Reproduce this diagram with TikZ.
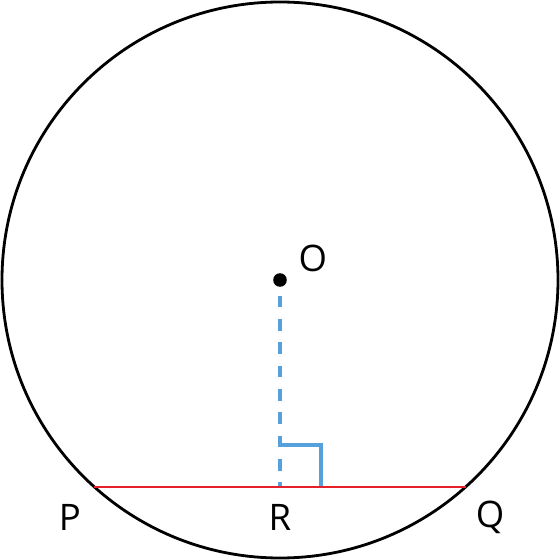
\documentclass[tikz,border=0pt]{standalone}
\usepackage{fontspec}
\setmainfont{Open Sans}
\usetikzlibrary{calc}
\definecolor{chordred}{RGB}{230,32,40}
\definecolor{perpblue}{RGB}{86,160,220}

\begin{document}
\begin{tikzpicture}[
    rim/.style={draw=black, line width=2pt},
    chord/.style={draw=chordred, line width=2.1pt},
    perp/.style={draw=perpblue, line width=2.5pt},
    lbl/.style={font=\fontsize{26}{30}\selectfont, inner sep=0pt},
    ]
    \useasboundingbox (-7,-7) rectangle (7,7);
    \coordinate (O) at (0,0);
    \draw[rim] (O) circle (6.95);
    \coordinate (P) at (-4.64,-5.175);
    \coordinate (Q) at (4.64,-5.175);
    \coordinate (R) at (0,-5.175);
    \coordinate (Otop) at (0,-0.1);
    % perpendicular from the centre
    \draw[perp, dash pattern=on 8.3pt off 8.3pt, dash phase=8.3pt] (Otop) -- (R);
    \draw[perp] ($(R)+(0,1.05)$) -- ++(1.03,0) -- ($(R)+(1.03,0)$);
    \draw[chord] (P) -- (Q);
    \fill (O) circle (0.17);
    \node[lbl] (labO) at (0.82,0.55) {O};
    \node[lbl] (labP) at (-5.25,-5.925) {P};
    \node[lbl] (labR) at (0,-5.925) {R};
    \node[lbl] (labQ) at (5.25,-5.925) {Q};
\end{tikzpicture}
\end{document}
